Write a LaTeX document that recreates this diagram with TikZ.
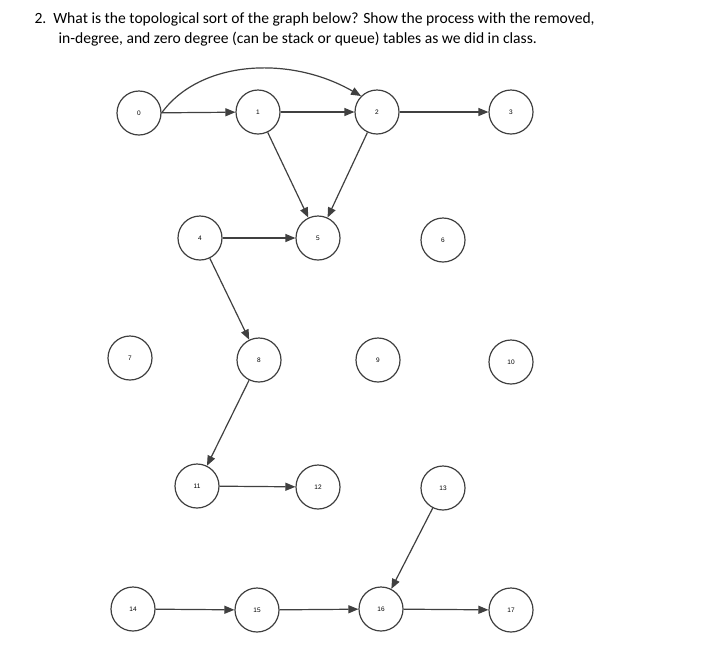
\documentclass[tikz,border=0pt]{standalone}
\usepackage{fontspec}
\setmainfont{Carlito}
\setsansfont{Liberation Sans}
\usetikzlibrary{arrows.meta}
\begin{document}
\begin{tikzpicture}[x=1pt,y=-1pt,
  vtx/.style={circle,draw=black!75,line width=1.2pt,minimum size=44pt,inner sep=0pt,font=\sffamily\fontsize{6.5}{7}\selectfont},
  edge/.style={draw=black!75,line width=1.2pt,-{Triangle[length=10pt,width=8pt]}}]
\useasboundingbox[fill=white] (0,0) rectangle (701,657);
\node[anchor=base west,font=\fontsize{15.6}{18}\selectfont] (t1) at (31,23) {2.\hspace{7pt}What is the topological sort of the graph below? Show the process with the removed,};
\node[anchor=base west,font=\fontsize{15.6}{18}\selectfont] (t2) at (55,43) {in-degree, and zero degree (can be stack or queue) tables as we did in class.};
\node[vtx] (n0) at (139,113) {0};
\node[vtx] (n1) at (258,112) {1};
\node[vtx] (n2) at (377,112) {2};
\node[vtx] (n3) at (511,112) {3};
\node[vtx] (n4) at (200,238) {4};
\node[vtx] (n5) at (318,238) {5};
\node[vtx] (n6) at (443,240) {6};
\node[vtx] (n7) at (130,358) {7};
\node[vtx] (n8) at (259,360) {8};
\node[vtx] (n9) at (378,360) {9};
\node[vtx] (n10) at (511,362) {10};
\node[vtx] (n11) at (197,486) {11};
\node[vtx] (n12) at (318,487) {12};
\node[vtx] (n13) at (443,488) {13};
\node[vtx] (n14) at (133,609) {14};
\node[vtx] (n15) at (257,610) {15};
\node[vtx] (n16) at (381,609) {16};
\node[vtx] (n17) at (511,610) {17};
\draw[edge] (n0) -- (n1);
\draw[edge] (n0.east) .. controls (200,60) and (290,55) .. (n2.north west);
\draw[edge] (n1) -- (n2);
\draw[edge] (n2) -- (n3);
\draw[edge] (n1) -- (n5);
\draw[edge] (n2) -- (n5);
\draw[edge] (n4) -- (n5);
\draw[edge] (n4) -- (n8);
\draw[edge] (n8) -- (n11);
\draw[edge] (n11) -- (n12);
\draw[edge] (n13) -- (n16);
\draw[edge] (n14) -- (n15);
\draw[edge] (n15) -- (n16);
\draw[edge] (n16) -- (n17);
\end{tikzpicture}
\end{document}
